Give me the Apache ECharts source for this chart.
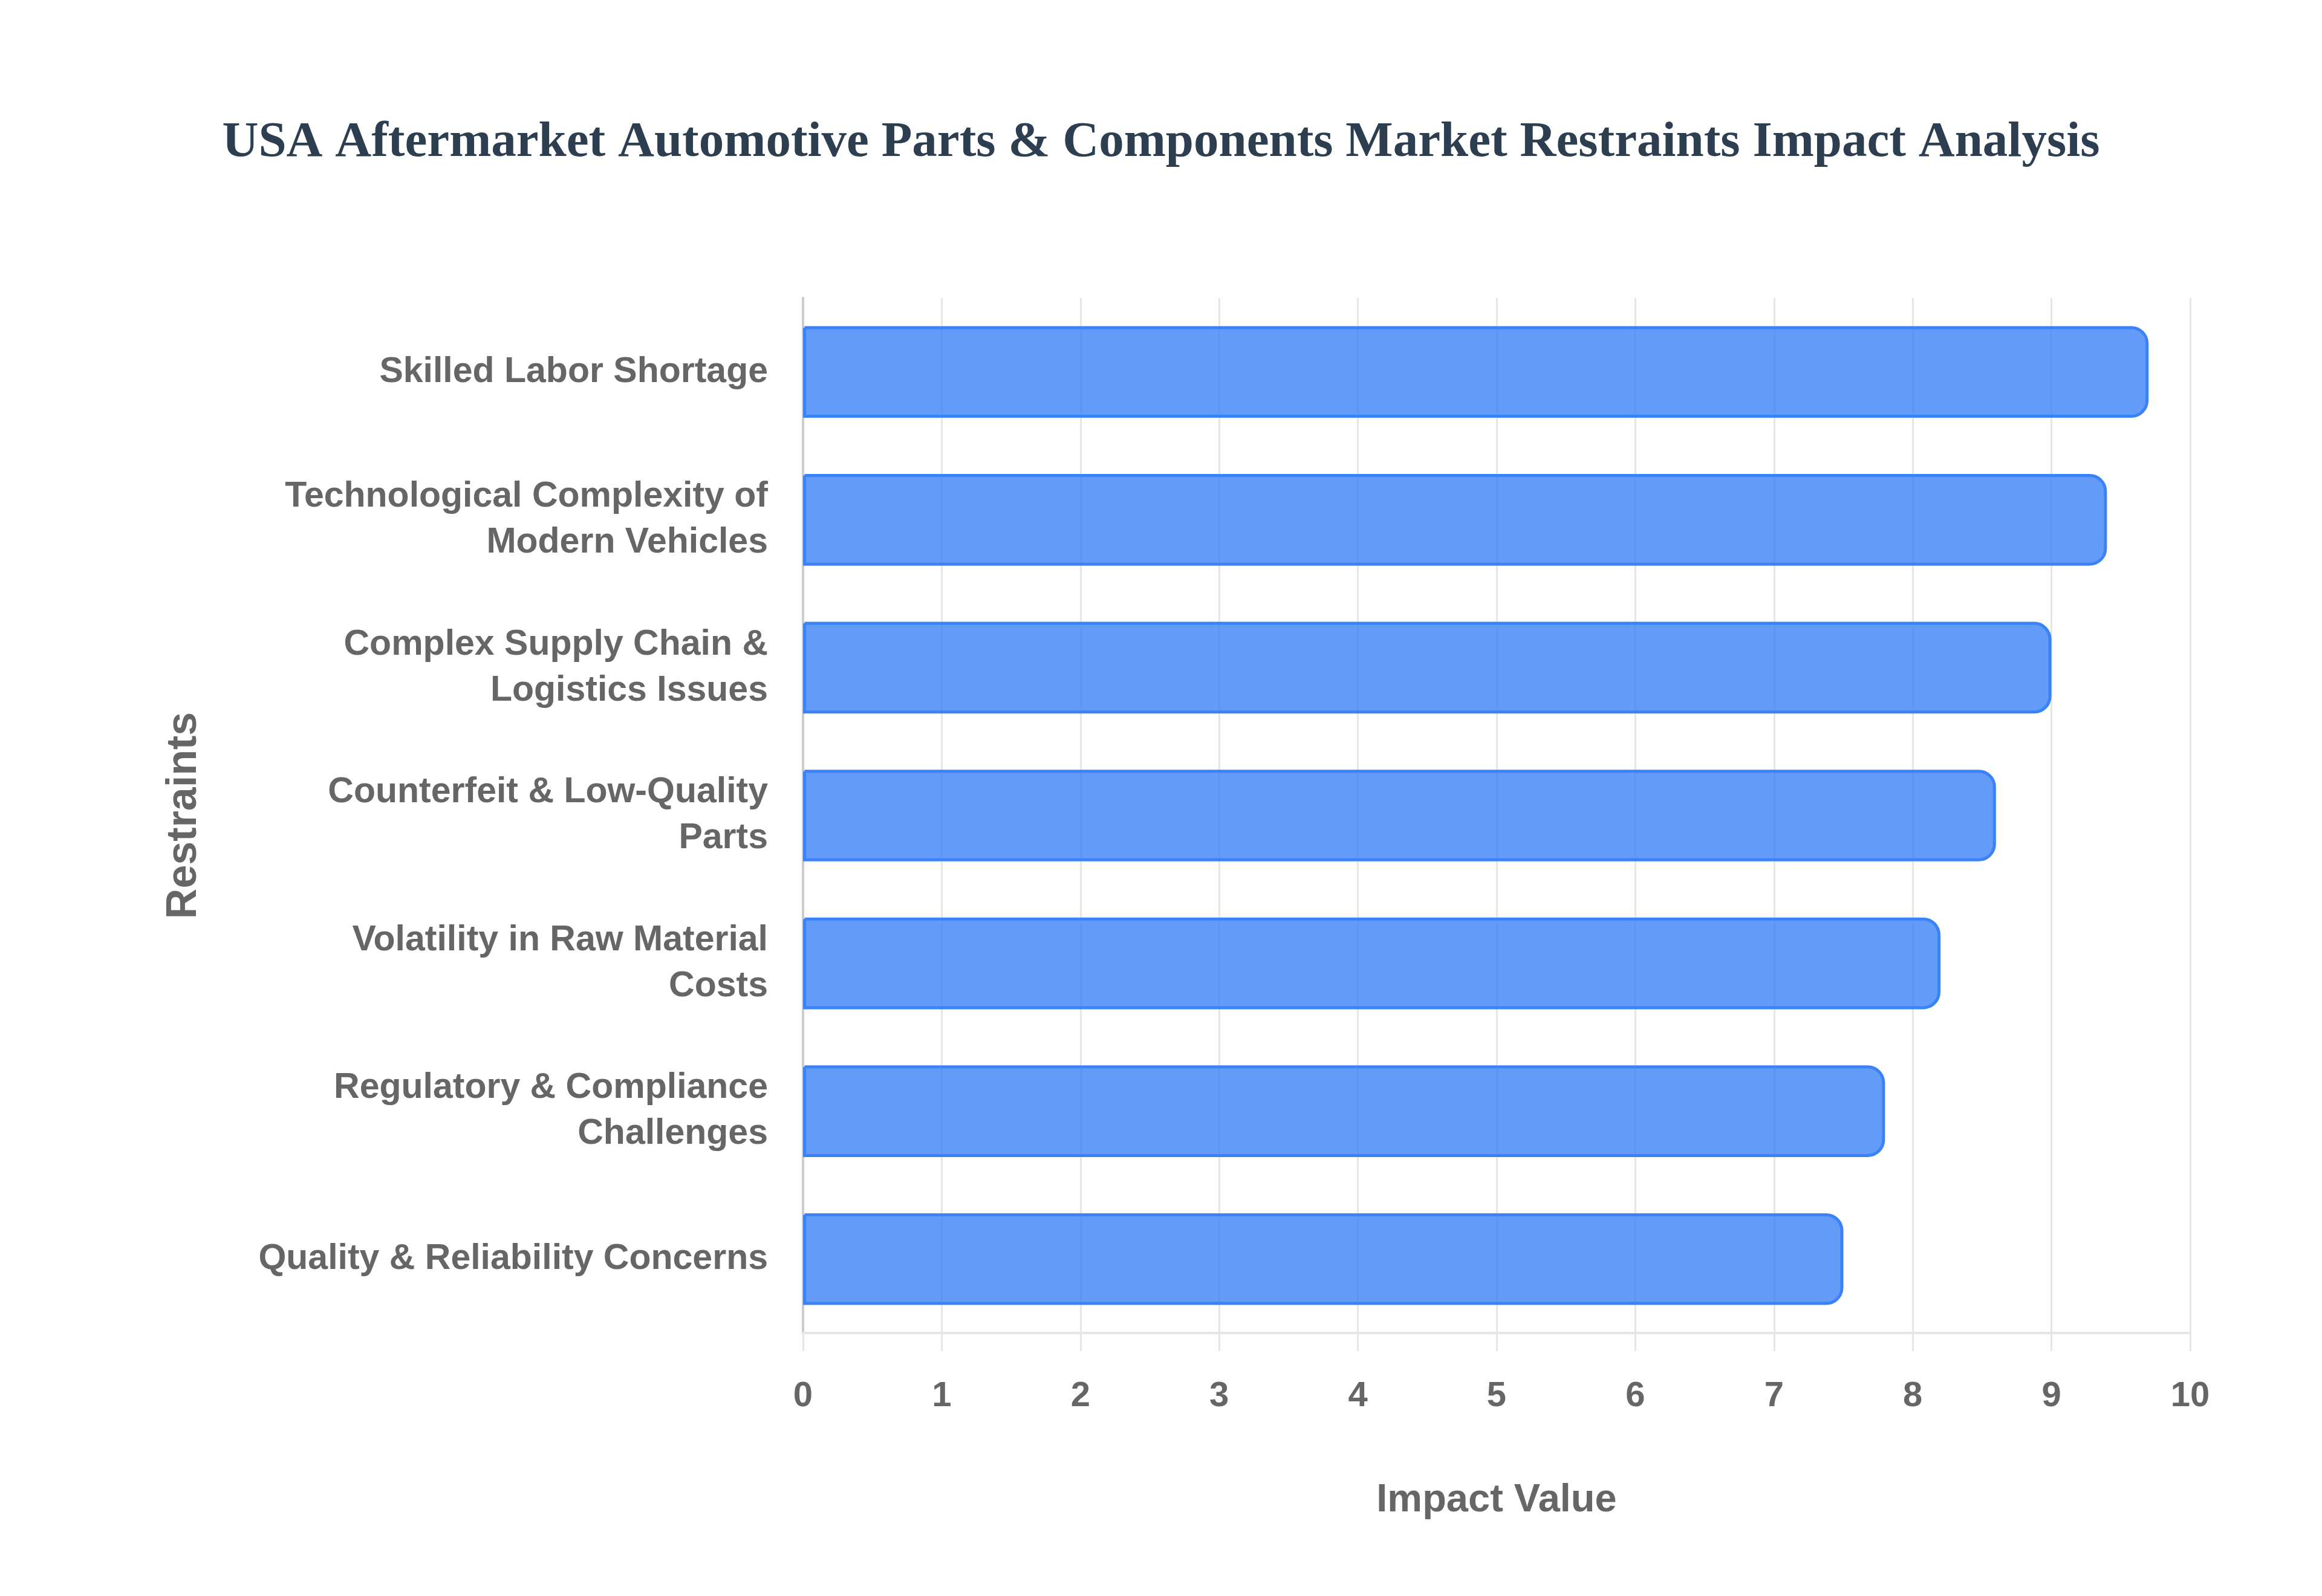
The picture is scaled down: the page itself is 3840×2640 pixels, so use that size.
<!DOCTYPE html>
<html>
<head>
<meta charset="utf-8">
<script src="https://cdn.jsdelivr.net/npm/echarts@6/dist/echarts.min.js"></script>
<style>
  html, body { margin: 0; padding: 0; background: #fff; }
  #main { width: 3840px; height: 2640px; }
</style>
</head>
<body>
<div id="main"></div>
<script>
const chartDom = document.getElementById('main');
const myChart = echarts.init(chartDom);

// top to bottom, as in the picture (line breaks as the labels wrap)
const restraints = [
  'Skilled Labor Shortage',
  'Technological Complexity of\nModern Vehicles',
  'Complex Supply Chain &\nLogistics Issues',
  'Counterfeit & Low-Quality\nParts',
  'Volatility in Raw Material\nCosts',
  'Regulatory & Compliance\nChallenges',
  'Quality & Reliability Concerns'
];
const impactValues = [9.7, 9.4, 9.0, 8.6, 8.2, 7.8, 7.5];
const xTicks = [0, 1, 2, 3, 4, 5, 6, 7, 8, 9, 10];

const gray = '#666666';
const sans = 'Liberation Sans';

let option = {
  backgroundColor: '#ffffff',
  title: {
    text: 'USA Aftermarket Automotive Parts & Components Market Restraints Impact Analysis',
    left: 'center',
    top: 190,
    textStyle: {
      fontFamily: 'Liberation Serif',
      fontWeight: 'bold',
      fontSize: 83,
      color: '#2c3e50'
    }
  },
  grid: {
    left: 1328,
    right: 218,
    top: 493,
    bottom: 435
  },
  xAxis: {
    type: 'value',
    min: xTicks[0],
    max: xTicks[xTicks.length - 1],
    interval: 1,
    name: 'Impact Value',
    nameLocation: 'middle',
    nameGap: 245,
    nameTextStyle: {
      fontFamily: sans,
      fontWeight: 'bold',
      fontSize: 65,
      color: gray
    },
    axisLine: { show: true, lineStyle: { color: '#e6e6e6', width: 4 } },
    axisTick: { show: true, length: 30, lineStyle: { color: '#e6e6e6', width: 3 } },
    axisLabel: {
      margin: 76,
      fontFamily: sans,
      fontWeight: 'bold',
      fontSize: 58,
      color: gray
    },
    splitLine: { show: true, lineStyle: { color: '#e6e6e6', width: 3 } }
  },
  yAxis: {
    type: 'category',
    data: restraints,
    inverse: true,
    name: 'Restraints',
    nameLocation: 'middle',
    nameGap: 988,
    nameRotate: 90,
    nameTextStyle: {
      fontFamily: sans,
      fontWeight: 'bold',
      fontSize: 70,
      color: gray
    },
    axisLine: { show: true, lineStyle: { color: '#cccccc', width: 4 } },
    axisTick: { show: false },
    axisLabel: {
      margin: 58,
      fontFamily: sans,
      fontWeight: 'bold',
      fontSize: 59,
      lineHeight: 76,
      color: gray,
      align: 'right'
    },
    splitLine: { show: false }
  },
  series: [
    {
      type: 'bar',
      data: impactValues,
      barCategoryGap: '38%',
      itemStyle: {
        color: 'rgba(59, 130, 246, 0.8)',
        borderColor: '#3b82f6',
        borderWidth: 5,
        borderRadius: [0, 26, 26, 0]
      },
      animation: false
    }
  ]
};

myChart.setOption(option);
</script>
</body>
</html>
